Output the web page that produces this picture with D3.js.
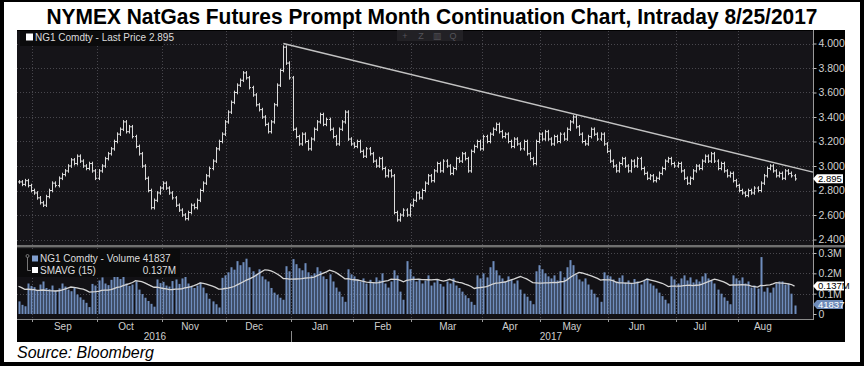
<!DOCTYPE html>
<html>
<head>
<meta charset="utf-8">
<script src="https://d3js.org/d3.v7.min.js"></script>
<style>
  body { margin: 0; background: #fff; }
  svg { display: block; }
</style>
</head>
<body>
<div id="chart"></div>
<script>

// ---- data ----
var title = 'NYMEX NatGas Futures Prompt Month Continuation Chart, Intraday 8/25/2017'
var source = 'Source: Bloomberg'

// daily closes, 8/25/2016 .. 8/25/2017 (trading days)
var closesAug16 = [2.87, 2.85, 2.88, 2.84, 2.80]
var closesSep16 = [2.78, 2.74, 2.70, 2.68, 2.75, 2.80, 2.86, 2.84, 2.90, 2.93, 2.96, 3.00, 3.05, 3.02, 3.08, 3.04, 3.00, 2.98, 3.02, 2.96, 2.90]
var closesOct16 = [2.96, 3.00, 3.06, 3.10, 3.14, 3.20, 3.26, 3.30, 3.36, 3.28, 3.32, 3.24, 3.16, 3.10, 3.00, 2.90, 2.80, 2.66, 2.72, 2.78, 2.82]
var closesNov16 = [2.86, 2.82, 2.78, 2.74, 2.68, 2.64, 2.60, 2.57, 2.62, 2.68, 2.66, 2.72, 2.80, 2.86, 2.92, 2.98, 3.04, 3.14, 3.20, 3.26, 3.36]
var closesDec16 = [3.44, 3.52, 3.60, 3.66, 3.70, 3.76, 3.72, 3.64, 3.58, 3.50, 3.46, 3.40, 3.34, 3.28, 3.36, 3.50, 3.66, 3.78, 3.97, 3.84, 3.72]
var closesJan17 = [3.30, 3.24, 3.18, 3.26, 3.20, 3.14, 3.22, 3.30, 3.36, 3.42, 3.34, 3.38, 3.30, 3.24, 3.18, 3.30, 3.36, 3.44, 3.22, 3.18]
var closesFeb17 = [3.16, 3.20, 3.12, 3.08, 3.14, 3.10, 3.04, 3.00, 3.06, 2.98, 2.92, 2.96, 2.92, 2.62, 2.56, 2.60, 2.64, 2.60, 2.68]
var closesMar17 = [2.72, 2.78, 2.74, 2.80, 2.86, 2.92, 2.88, 2.96, 3.02, 2.96, 3.04, 3.00, 2.94, 2.98, 3.06, 3.04, 3.10, 3.06, 2.96, 3.12, 3.16, 3.20, 3.14]
var closesApr17 = [3.24, 3.20, 3.26, 3.30, 3.34, 3.28, 3.24, 3.26, 3.20, 3.16, 3.22, 3.18, 3.14, 3.20, 3.10, 3.06, 3.02, 3.20, 3.26]
var closesMay17 = [3.22, 3.28, 3.22, 3.18, 3.24, 3.20, 3.26, 3.22, 3.30, 3.36, 3.40, 3.32, 3.26, 3.20, 3.18, 3.24, 3.30, 3.26, 3.22, 3.26, 3.18, 3.12]
var closesJun17 = [3.04, 3.00, 2.96, 3.02, 3.06, 3.00, 2.96, 3.04, 3.00, 3.06, 2.98, 2.94, 2.90, 2.92, 2.88, 2.90, 2.94, 2.98, 3.04, 3.06, 3.02, 3.00]
var closesJul17 = [3.02, 2.96, 2.90, 2.86, 2.90, 2.96, 3.00, 2.98, 3.04, 3.08, 3.04, 3.10, 3.04, 2.98, 3.02, 2.96, 2.92, 2.94, 2.88, 2.84]
var closesAug17 = [2.80, 2.78, 2.76, 2.80, 2.78, 2.82, 2.80, 2.86, 2.92, 2.98, 3.00, 2.96, 2.92, 2.94, 2.90, 2.96, 2.94, 2.92, 2.895]

// daily volume, thousands of contracts
var priorVolumes = [150, 162, 140, 155, 148, 170, 135, 142, 160, 138, 150, 128, 110, 95]
var volAug16 = [62, 45, 38, 150, 138]
var volSep16 = [132, 118, 145, 160, 128, 122, 140, 115, 126, 150, 135, 120, 112, 128, 96, 82, 70, 55, 34, 148, 140]
var volOct16 = [165, 180, 150, 142, 168, 195, 210, 172, 188, 150, 138, 145, 160, 120, 98, 80, 64, 50, 36, 170, 152]
var volNov16 = [158, 140, 135, 162, 170, 148, 175, 182, 150, 135, 128, 140, 155, 130, 102, 75, 62, 48, 32, 178, 190]
var volDec16 = [205, 230, 218, 260, 240, 255, 272, 230, 210, 198, 220, 185, 170, 160, 128, 105, 95, 80, 70, 235, 210]
var volJan17 = [270, 245, 225, 215, 250, 205, 190, 200, 230, 210, 185, 172, 195, 160, 130, 110, 85, 60, 220, 195]
var volFeb17 = [185, 170, 160, 175, 150, 168, 155, 180, 165, 200, 150, 130, 160, 215, 190, 110, 70, 260, 220]
var volMar17 = [185, 160, 172, 150, 165, 190, 140, 155, 170, 148, 135, 160, 150, 175, 140, 128, 110, 92, 78, 60, 45, 190, 175]
var volApr17 = [200, 180, 230, 260, 215, 190, 175, 160, 185, 170, 150, 165, 120, 100, 85, 65, 48, 210, 240]
var volMay17 = [220, 200, 185, 175, 190, 165, 210, 180, 230, 265, 240, 195, 170, 160, 175, 145, 120, 100, 82, 60, 205, 190]
var volJun17 = [185, 170, 160, 178, 190, 155, 165, 150, 172, 160, 145, 168, 175, 150, 140, 125, 105, 88, 70, 52, 185, 170]
var volJul17 = [150, 175, 190, 165, 180, 155, 170, 160, 185, 200, 175, 165, 150, 120, 100, 82, 65, 48, 190, 175]
var volAug17 = [165, 180, 150, 160, 130, 140, 125, 280, 110, 130, 105, 130, 150, 160, 160, 145, 150, 100, 41.837]

// axes
var monthStarts = [5, 26, 47, 68, 89, 109, 128, 151, 170, 192, 214, 234]
var monthLabels = ['Sep', 'Oct', 'Nov', 'Dec', 'Jan', 'Feb', 'Mar', 'Apr', 'May', 'Jun', 'Jul', 'Aug']
var monthLabelPos = [14.4, 34.9, 55.7, 76.5, 97.9, 118.3, 139.4, 159.6, 179.7, 200.8, 221.3, 241.7]
var yearLabels = ['2016', '2017']
var yearLabelPos = [44.3, 172.9]
var yearBreak = 88.5
var priceTicks = [2.4, 2.6, 2.8, 3.0, 3.2, 3.4, 3.6, 3.8, 4.0]
var volumeTicks = [0, 100, 200, 300]
var trendLine = [[86, 4.0], [258, 2.95]]
var smaPeriod = 15

var closes = [].concat(closesAug16, closesSep16, closesOct16, closesNov16, closesDec16, closesJan17,
  closesFeb17, closesMar17, closesApr17, closesMay17, closesJun17, closesJul17, closesAug17)
var volumes = [].concat(volAug16, volSep16, volOct16, volNov16, volDec16, volJan17,
  volFeb17, volMar17, volApr17, volMay17, volJun17, volJul17, volAug17)

// ---- layout ----
var W = 864, H = 366
var plotL = 17, plotR = 813
var priceTop = 31, priceBottom = 245, volTop = 248, volBottom = 319
var narrow = "'Liberation Sans Narrow', 'Arial Narrow', 'Liberation Sans', Arial, sans-serif"
var lastIdx = closes.length - 1

var svg = d3.select('#chart').append('svg')
  .attr('width', W)
  .attr('height', H)

// white card with black border
svg.append('rect').attr('width', W).attr('height', H).attr('fill', '#000')
svg.append('rect').attr('x', 4).attr('y', 2).attr('width', 856).attr('height', 360).attr('fill', '#fff')

svg.append('text')
  .attr('x', 432).attr('y', 24)
  .attr('text-anchor', 'middle')
  .attr('font-family', narrow)
  .attr('font-weight', 'bold')
  .attr('font-size', 22)
  .attr('textLength', 771)
  .attr('lengthAdjust', 'spacingAndGlyphs')
  .attr('fill', '#000')
  .text(title)

svg.append('text')
  .attr('x', 17).attr('y', 358)
  .attr('font-family', "'Liberation Sans', Arial, sans-serif")
  .attr('font-style', 'italic')
  .attr('font-size', 16)
  .attr('fill', '#000')
  .text(source)

// black terminal panel
svg.append('rect').attr('x', 17).attr('y', 30).attr('width', 828).attr('height', 312).attr('fill', '#000')
svg.append('rect').attr('x', plotL).attr('y', priceTop).attr('width', plotR - plotL).attr('height', priceBottom - priceTop).attr('fill', '#151418')
svg.append('rect').attr('x', plotL).attr('y', volTop).attr('width', plotR - plotL).attr('height', volBottom - volTop).attr('fill', '#121115')
svg.append('rect').attr('x', plotL).attr('y', 245).attr('width', 828).attr('height', 2.5).attr('fill', '#707070')

// scales
var x = d3.scaleLinear().domain([0, 258]).range([18.5, 813])
var y = d3.scaleLinear().domain([2.4, 4.0]).range([239.5, 43.5])
var yv = d3.scaleLinear().domain([0, 300]).range([314, 253])
function px(i) { return Math.round(x(i)) + 0.5 }

// dotted grid
var grid = svg.append('g')
  .attr('stroke', '#48474d')
  .attr('stroke-width', 1)
  .attr('stroke-dasharray', '1,2')
grid.selectAll('.hgrid')
  .data(priceTicks)
  .enter().append('line')
  .attr('x1', plotL).attr('x2', plotR)
  .attr('y1', function(d) { return Math.round(y(d)) + 0.5 })
  .attr('y2', function(d) { return Math.round(y(d)) + 0.5 })
grid.selectAll('.vgrid')
  .data(monthStarts)
  .enter().append('line')
  .attr('x1', function(d) { return px(d - 0.5) })
  .attr('x2', function(d) { return px(d - 0.5) })
  .attr('y1', priceTop).attr('y2', priceBottom)
grid.selectAll('.vgrid2')
  .data(monthStarts)
  .enter().append('line')
  .attr('x1', function(d) { return px(d - 0.5) })
  .attr('x2', function(d) { return px(d - 0.5) })
  .attr('y1', volTop).attr('y2', volBottom)
grid.selectAll('.vhgrid')
  .data(volumeTicks.slice(1))
  .enter().append('line')
  .attr('x1', plotL).attr('x2', plotR)
  .attr('y1', function(d) { return Math.round(yv(d)) + 0.5 })
  .attr('y2', function(d) { return Math.round(yv(d)) + 0.5 })

// OHLC bars, open taken as prior close
var bars = closes.map(function(c, i) {
  var o = i > 0 ? closes[i - 1] : c
  return { i: i, o: o, c: c, h: Math.max(o, c) + 0.015, l: Math.min(o, c) - 0.015 }
})
svg.append('g')
  .selectAll('path')
  .data(bars)
  .enter().append('path')
  .attr('d', function(d) {
    var cx = px(d.i)
    return 'M' + cx + ',' + y(d.h) + 'V' + y(d.l) +
      'M' + (cx - 1.5) + ',' + y(d.o) + 'H' + cx +
      'M' + cx + ',' + y(d.c) + 'H' + (cx + 1.5)
  })
  .attr('fill', 'none')
  .attr('stroke', '#dadada')
  .attr('stroke-width', 1)

// resistance line
svg.append('path')
  .datum(trendLine)
  .attr('d', d3.line().x(function(d) { return x(d[0]) }).y(function(d) { return y(d[1]) }))
  .attr('fill', 'none')
  .attr('stroke', '#c2c2c2')
  .attr('stroke-width', 1.5)

// volume bars
svg.append('g')
  .selectAll('rect')
  .data(volumes)
  .enter().append('rect')
  .attr('x', function(d, i) { return Math.round(x(i)) - 0.5 })
  .attr('width', 2)
  .attr('y', function(d) { return yv(d) })
  .attr('height', function(d) { return yv(0) - yv(d) })
  .attr('fill', '#6f8dbd')

// 15 day moving average of volume
var allVol = priorVolumes.concat(volumes)
var sma = volumes.map(function(v, i) {
  var k = i + priorVolumes.length
  return d3.mean(allVol.slice(k - smaPeriod + 1, k + 1))
})
svg.append('path')
  .datum(sma)
  .attr('d', d3.line().x(function(d, i) { return x(i) }).y(function(d) { return yv(d) }))
  .attr('fill', 'none')
  .attr('stroke', '#d4d4d4')
  .attr('stroke-width', 1.3)

// right axes
svg.append('line')
  .attr('x1', plotR + 0.5).attr('x2', plotR + 0.5)
  .attr('y1', 30).attr('y2', volBottom + 1)
  .attr('stroke', '#9a9a9a')

function styleAxis(g) {
  g.select('.domain').remove()
  g.selectAll('.tick line').attr('stroke', '#bdbdbd')
  g.selectAll('.tick text')
    .attr('fill', '#cfcfcf')
    .attr('font-family', narrow)
    .attr('font-size', 10.5)
}
svg.append('g')
  .attr('transform', 'translate(' + (plotR + 0.5) + ',0)')
  .call(d3.axisRight(y).tickValues(priceTicks).tickFormat(d3.format('.3f')).tickSize(3).tickPadding(2))
  .call(styleAxis)
svg.append('g')
  .attr('transform', 'translate(' + (plotR + 0.5) + ',0)')
  .call(d3.axisRight(yv).tickValues(volumeTicks)
    .tickFormat(function(d) { return d === 0 ? '0' : (d / 1000) + 'M' })
    .tickSize(3).tickPadding(2))
  .call(styleAxis)

// last value tags
function tag(yc, w, fill, color, label) {
  var g = svg.append('g')
  g.append('path')
    .attr('d', 'M' + plotR + ',' + yc + 'L' + (plotR + 4) + ',' + (yc - 4.5) + 'H' + (plotR + w) +
      'V' + (yc + 4.5) + 'H' + (plotR + 4) + 'Z')
    .attr('fill', fill)
  g.append('text')
    .attr('x', plotR + 5).attr('y', yc).attr('dy', '0.35em')
    .attr('font-family', narrow).attr('font-size', 9.5)
    .attr('fill', color)
    .text(label)
}
var lastSma = sma[lastIdx]
tag(y(closes[lastIdx]), 30, '#fff', '#000', closes[lastIdx].toFixed(3))
tag(yv(lastSma), 31, '#fff', '#000', (lastSma / 1000).toFixed(3) + 'M')
tag(yv(volumes[lastIdx]) - 1, 30, '#6d8ab8', '#fff', Math.round(volumes[lastIdx] * 1000))

// x axis
svg.append('line')
  .attr('x1', plotL).attr('x2', plotR)
  .attr('y1', volBottom + 0.5).attr('y2', volBottom + 0.5)
  .attr('stroke', '#8a8a8a')
svg.append('g')
  .selectAll('line')
  .data(monthStarts)
  .enter().append('line')
  .attr('x1', function(d) { return px(d - 0.5) })
  .attr('x2', function(d) { return px(d - 0.5) })
  .attr('y1', volBottom).attr('y2', volBottom + 3)
  .attr('stroke', '#9a9a9a')
svg.append('g')
  .selectAll('text')
  .data(monthLabels)
  .enter().append('text')
  .attr('x', function(d, i) { return x(monthLabelPos[i]) })
  .attr('y', 330)
  .attr('text-anchor', 'middle')
  .attr('font-family', narrow).attr('font-size', 10)
  .attr('fill', '#cfcfcf')
  .text(function(d) { return d })
svg.append('g')
  .selectAll('text')
  .data(yearLabels)
  .enter().append('text')
  .attr('x', function(d, i) { return x(yearLabelPos[i]) })
  .attr('y', 340)
  .attr('text-anchor', 'middle')
  .attr('font-family', narrow).attr('font-size', 10)
  .attr('fill', '#cfcfcf')
  .text(function(d) { return d })
svg.append('line')
  .attr('x1', px(yearBreak)).attr('x2', px(yearBreak))
  .attr('y1', 331).attr('y2', 342)
  .attr('stroke', '#8a8a8a')

// legends
svg.append('rect').attr('x', 20).attr('y', 31).attr('width', 143).attr('height', 15).attr('fill', '#0b0b0c')
svg.append('rect').attr('x', 26).attr('y', 33.5).attr('width', 7).attr('height', 7).attr('fill', '#fff')
svg.append('text')
  .attr('x', 35).attr('y', 40.5)
  .attr('font-family', narrow).attr('font-size', 10)
  .attr('fill', '#dcdcdc')
  .text('NG1 Comdty - Last Price ' + closes[lastIdx].toFixed(3))

svg.append('rect').attr('x', 17).attr('y', 249).attr('width', 163).attr('height', 28).attr('fill', '#0b0b0c')
svg.append('path')
  .attr('d', 'M27.5,257V270.5H31')
  .attr('fill', 'none').attr('stroke', '#777')
svg.append('circle').attr('cx', 27.5).attr('cy', 256).attr('r', 1.5).attr('fill', 'none').attr('stroke', '#777')
svg.append('rect').attr('x', 32).attr('y', 255.5).attr('width', 6).attr('height', 6).attr('fill', '#7f9dcc')
svg.append('rect').attr('x', 32).attr('y', 267).attr('width', 6).attr('height', 6).attr('fill', '#fff')
svg.append('text')
  .attr('x', 40).attr('y', 262)
  .attr('font-family', narrow).attr('font-size', 10)
  .attr('fill', '#dcdcdc')
  .text('NG1 Comdty - Volume ' + Math.round(volumes[lastIdx] * 1000))
svg.append('text')
  .attr('x', 40).attr('y', 273.5)
  .attr('font-family', narrow).attr('font-size', 10)
  .attr('fill', '#dcdcdc')
  .text('SMAVG (' + smaPeriod + ')')
svg.append('text')
  .attr('x', 176).attr('y', 273.5)
  .attr('text-anchor', 'end')
  .attr('font-family', narrow).attr('font-size', 10)
  .attr('fill', '#dcdcdc')
  .text((lastSma / 1000).toFixed(3) + 'M')

// chart toolbar
svg.append('rect').attr('x', 397).attr('y', 30).attr('width', 66).attr('height', 11).attr('fill', '#222125')
svg.append('g')
  .selectAll('text')
  .data(['+', 'Z', '\u25A5', 'Q'])
  .enter().append('text')
  .attr('x', function(d, i) { return 405 + i * 16 })
  .attr('y', 39)
  .attr('text-anchor', 'middle')
  .attr('font-family', narrow).attr('font-size', 9)
  .attr('fill', '#55545a')
  .text(function(d) { return d })

</script>
</body>
</html>
